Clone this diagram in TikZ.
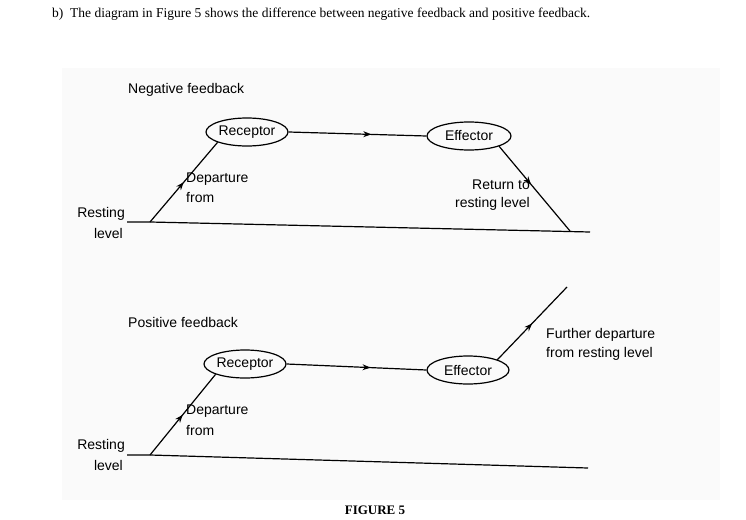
\documentclass[tikz,border=0pt]{standalone}
\usepackage{fontspec}
\setmainfont{Liberation Serif}
\newfontfamily\arialf{Liberation Sans}
\usetikzlibrary{decorations.markings,arrows.meta,shapes.geometric}
\begin{document}
\begin{tikzpicture}[x=1pt,y=-1pt,
  lbl/.style={font=\arialf\fontsize{14}{16}\selectfont,inner sep=0pt},
  oval/.style={draw,ellipse,line width=1.2pt,minimum width=82pt,minimum height=28pt,inner sep=0pt,font=\arialf\fontsize{14}{16}\selectfont},
  ln/.style={line width=1.2pt},
  mid/.style={ln,postaction={decorate},decoration={markings,mark=at position #1 with {\arrow{Stealth[length=8pt,width=6pt]}}}}]
\useasboundingbox (0,0) rectangle (746,519);
\fill[black!2] (62,68) rectangle (720,500);
\node[anchor=west,inner sep=0pt,font=\fontsize{13.5}{15}\selectfont] (title) at (52,14) {b)\ \ The diagram in Figure 5 shows the difference between negative feedback and positive feedback.};
% Negative
\node[lbl,anchor=west] (nf) at (128,90) {Negative feedback};
\node[oval] (r1) at (247,132) {Receptor};
\node[oval,minimum width=84pt] (e1) at (469,136) {Effector};
\draw[mid=0.6] (r1.east) -- (e1.west);
\coordinate (a1) at (150,222);
\coordinate (b1) at (570,231);
\coordinate (rl1) at (127,222);
\draw[ln] (rl1) -- (a1) -- (590,232);
\draw[mid=0.5] (a1) -- (r1.south west);
\draw[mid=0.45] (e1.south east) -- (b1);
\node[lbl,anchor=west] (d1) at (186,179) {Departure};
\node[lbl,anchor=west] (f1) at (186,198) {from};
\node[lbl,anchor=east] (rt1) at (530,185) {Return to};
\node[lbl,anchor=east] (rs1) at (530,204) {resting level};
\node[lbl,anchor=east] (R1) at (125,214) {Resting};
\node[lbl,anchor=east] (L1) at (123,233) {level};
% Positive
\node[lbl,anchor=west] (pf) at (128,322) {Positive feedback};
\node[oval] (r2) at (245,364) {Receptor};
\node[oval] (e2) at (468,370) {Effector};
\draw[mid=0.6] (r2.east) -- (e2.west);
\coordinate (a2) at (150,455);
\coordinate (t2) at (567,287);
\draw[ln] (127,455) -- (a2) -- (588,468);
\draw[mid=0.5] (a2) -- (r2.south west);
\draw[mid=0.5] (e2.north east) -- (t2);
\node[lbl,anchor=west] (d2) at (186,411) {Departure};
\node[lbl,anchor=west] (f2) at (186,430) {from};
\node[lbl,anchor=west] (fd) at (546,335) {Further departure};
\node[lbl,anchor=west] (fr) at (546,354) {from resting level};
\node[lbl,anchor=east] (R2) at (125,446) {Resting};
\node[lbl,anchor=east] (L2) at (123,465) {level};
\node[font=\bfseries\fontsize{13}{15}\selectfont,inner sep=0pt] (fig) at (375,510) {FIGURE 5};
\end{tikzpicture}
\end{document}
